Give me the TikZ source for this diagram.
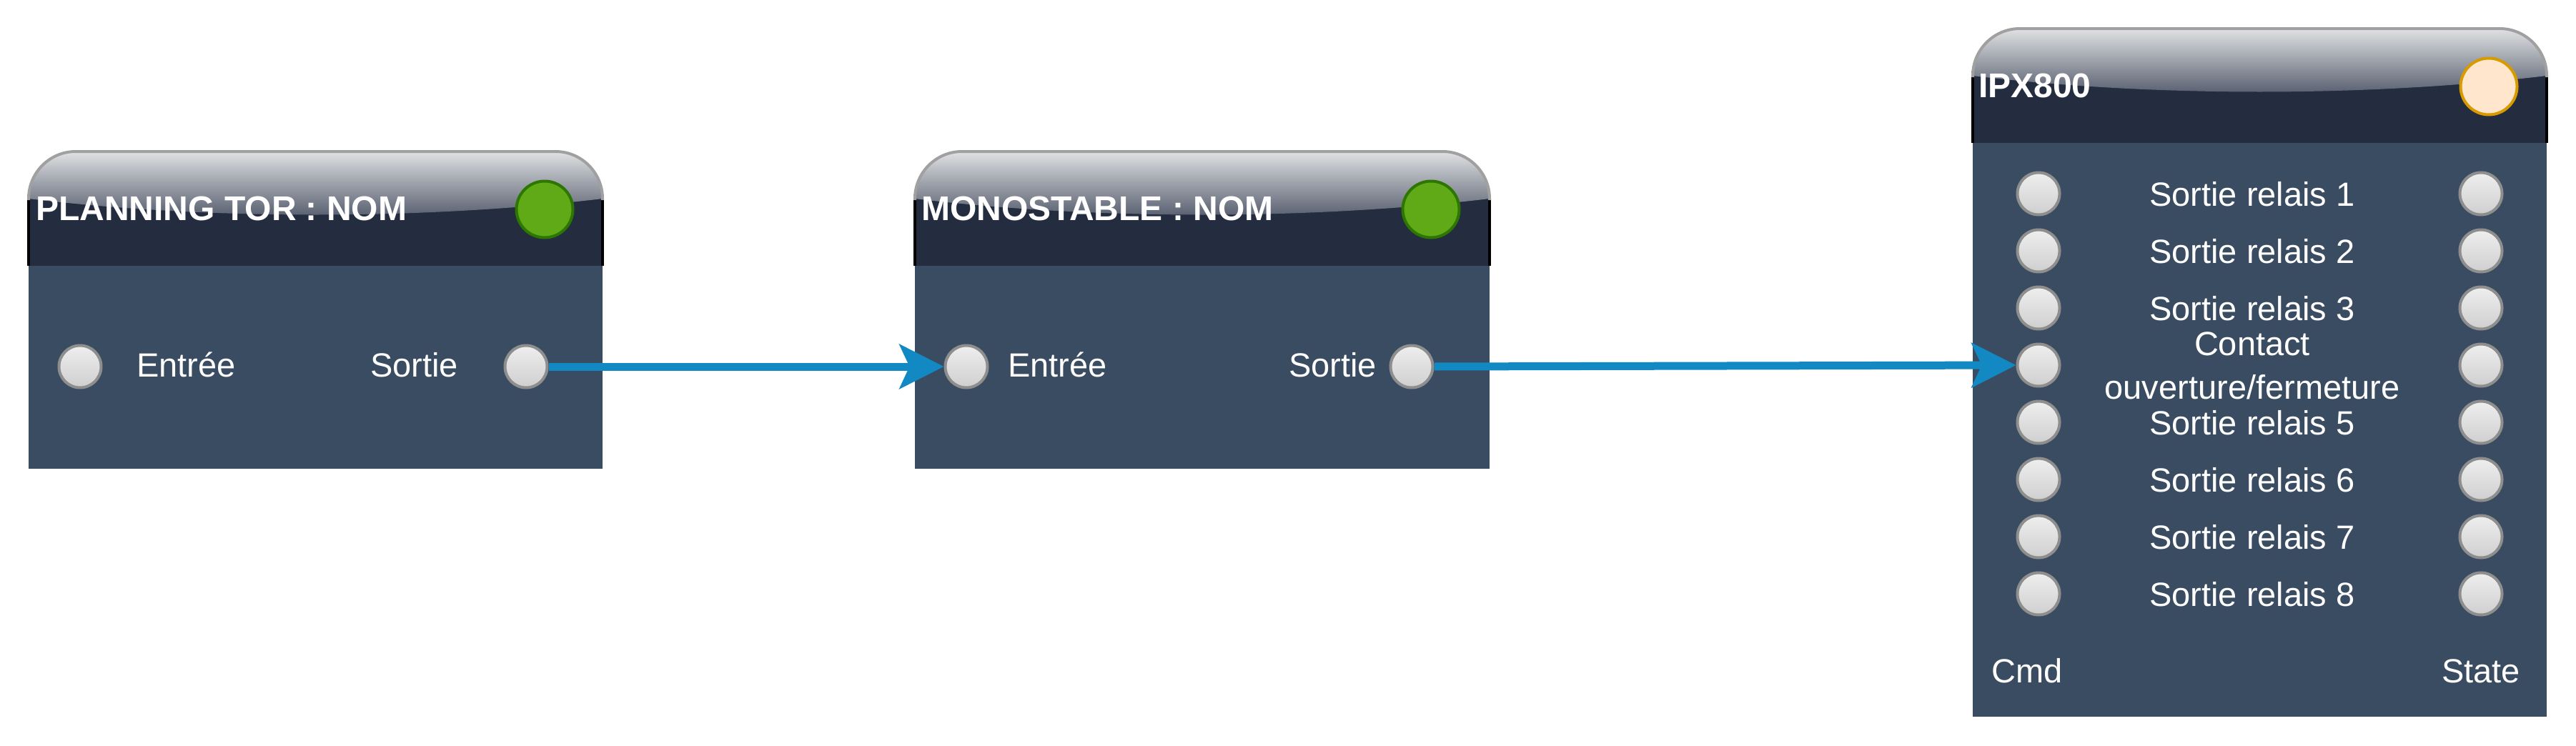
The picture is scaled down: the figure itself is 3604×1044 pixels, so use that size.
\documentclass[tikz,border=0pt]{standalone}
\usepackage{fontspec}
\setmainfont{Liberation Sans}
\usetikzlibrary{arrows.meta}
\definecolor{hdrdark}{HTML}{232D3F}
\definecolor{bodyblue}{HTML}{3A4C61}
\definecolor{hltop}{HTML}{E0E1E3}
\definecolor{hlmid}{HTML}{A7ABB3}
\definecolor{hlbot}{HTML}{505869}
\definecolor{glassedge}{HTML}{A0A0A0}
\definecolor{linkblue}{HTML}{1289C2}
\definecolor{portfillA}{HTML}{EEEEEE}
\definecolor{portfillB}{HTML}{CFCFCF}
\definecolor{portedge}{HTML}{8E8E8E}
\definecolor{okfill}{HTML}{60A917}
\definecolor{okedge}{HTML}{2D7600}
\definecolor{warnfill}{HTML}{FFE6CC}
\definecolor{warnedge}{HTML}{D79B00}
\tikzset{
  port/.style={circle, minimum size=59pt, inner sep=0pt, draw=portedge, line width=4pt, top color=portfillA, bottom color=portfillB},
  lamp/.style={circle, minimum size=79pt, inner sep=0pt, line width=4pt},
  title/.style={font=\fontsize{48}{58}\selectfont\bfseries, text=white, inner sep=0pt},
  lbl/.style={font=\fontsize{47}{61}\selectfont, text=white, inner sep=0pt},
  link/.style={draw=linkblue, line width=11pt, -{Stealth[length=62pt, width=62pt, inset=14pt]}},
}
% #1 left, #2 right, #3 top, #4 header bottom, #5 body bottom
\newcommand{\ibox}[5]{%
  \fill[hdrdark] (#1,#4) [rounded corners=66pt] -- (#1,#3) -- (#2,#3) [sharp corners] -- (#2,#4) -- cycle;
  \draw[black, line width=4pt] (#1,#3+60) -- (#1,#4);
  \draw[black, line width=4pt] (#2,#3+60) -- (#2,#4);
  \shade[top color=hltop, middle color=hlmid, bottom color=hlbot]
    (#1,#3+66) [rounded corners=66pt] -- (#1,#3) -- (#2,#3) [sharp corners] -- (#2,#3+66)
    .. controls (#2-250,#3+96) and (#1+250,#3+96) .. (#1,#3+66) -- cycle;
  \draw[glassedge, line width=4pt] (#1,#3+68) [rounded corners=66pt] -- (#1,#3) -- (#2,#3) [sharp corners] -- (#2,#3+68);
  \fill[bodyblue] (#1,#4) rectangle (#2,#5);
}
\begin{document}
\begin{tikzpicture}[x=1pt,y=-1pt]
\useasboundingbox (0,0) rectangle (3604,1044);
\ibox{40}{843}{212}{372}{656}
\ibox{1280}{2084}{212}{372}{656}
\ibox{2760}{3563}{40}{200}{1003}

% Block 1
\node[title, anchor=base west] (t1) at (50,308) {PLANNING TOR : NOM};
\node[lamp, draw=okedge, fill=okfill] (s1) at (762,293) {};
\node[port] (p1in) at (112,513) {};
\node[port] (p1out) at (736,513) {};
\node[lbl, anchor=base west] (l1in) at (191,527) {Entrée};
\node[lbl, anchor=base east] (l1out) at (641,527) {Sortie};

% Block 2
\node[title, anchor=base west] (t2) at (1289,308) {MONOSTABLE : NOM};
\node[lamp, draw=okedge, fill=okfill] (s2) at (2002,293) {};
\node[port] (p2in) at (1352,513) {};
\node[port] (p2out) at (1975,513) {};
\node[lbl, anchor=base west] (l2in) at (1410,527) {Entrée};
\node[lbl, anchor=base east] (l2out) at (1926,527) {Sortie};

% Block 3
\node[title, anchor=base west] (t3) at (2768,136) {IPX800};
\node[lamp, draw=warnedge, fill=warnfill] (s3) at (3482,121) {};
\foreach \i in {1,...,8} {
  \node[port] (p3l\i) at (2852,191+80*\i) {};
  \node[port] (p3r\i) at (3471,191+80*\i) {};
}
\foreach \i in {1,2,3,5,6,7,8} {
  \node[lbl, anchor=base] (r\i) at (3151,208+80*\i) {Sortie relais \i};
}
\node[lbl, align=center] (r4) at (3151,512) {Contact\\ouverture/fermeture};
\node[lbl, anchor=base west] (cmd) at (2786,955) {Cmd};
\node[lbl, anchor=base east] (state) at (3526,955) {State};

% Links
\draw[link] (p1out.east) -- (p2in.west);
\draw[link] (p2out.east) -- (p3l4.west);
\end{tikzpicture}
\end{document}
